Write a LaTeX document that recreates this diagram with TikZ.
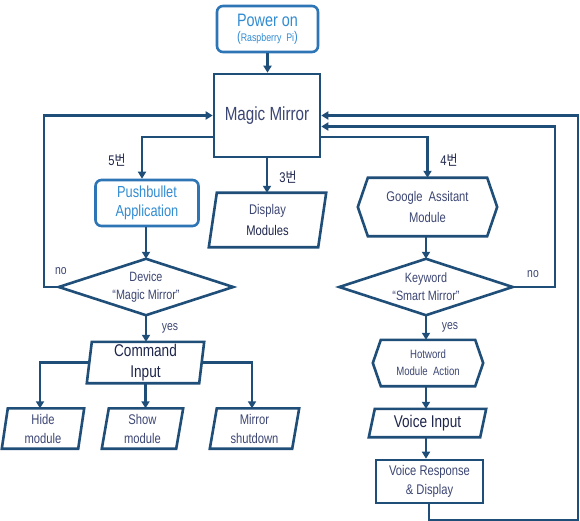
\documentclass[tikz,border=0pt]{standalone}
\usepackage{fontspec}
\setmainfont{Liberation Sans}[FakeStretch=0.8]
\newfontfamily\krfont{Noto Sans CJK KR}[FakeStretch=0.85]
\usetikzlibrary{arrows.meta,calc}
\definecolor{ln}{RGB}{31,78,121}
\definecolor{lbline}{RGB}{46,117,182}
\definecolor{lbtext}{RGB}{50,140,210}
\definecolor{txt}{RGB}{60,70,115}
\definecolor{dtxt}{RGB}{30,38,75}
\tikzset{
  box/.style={draw=ln, line width=2.6pt, rectangle, inner sep=0pt, align=center, text=txt},
  rbox/.style={draw=lbline, line width=2.6pt, rectangle, rounded corners=6pt, inner sep=0pt, align=center, text=lbtext},
  ghost/.style={draw=none, rectangle, inner sep=0pt, align=center, text=txt},
  outl/.style={draw=ln, line width=2.6pt, line join=miter},
  arr/.style={draw=ln, line width=2.2pt, -{Triangle[length=7pt,width=8pt]}},
  lab/.style={inner sep=0pt, text=dtxt, font=\fontsize{14}{16}\selectfont},
  yn/.style={inner sep=0pt, text=txt, font=\fontsize{13}{15}\selectfont},
}
\begin{document}
\begin{tikzpicture}[x=1pt,y=-1pt]
\useasboundingbox[fill=white] (0,0) rectangle (580,521);

% nodes
\node[rbox, minimum width=101pt, minimum height=46pt] (power) at (267.5,29)
  {\fontsize{18}{18}\selectfont Power on\\[3pt]{\fontsize{14}{14}\selectfont(}{\fontsize{11}{11}\selectfont Raspberry~~Pi}{\fontsize{14}{14}\selectfont)}};
\node[box, minimum width=106pt, minimum height=83pt, font=\fontsize{19}{22}\selectfont] (mm) at (267,115.5) {Magic Mirror};
\node[rbox, minimum width=103pt, minimum height=46pt, font=\fontsize{16}{19}\selectfont] (pb) at (147,203) {Pushbullet\\Application};

\node[ghost, minimum width=117pt, minimum height=54pt, font=\fontsize{14}{21}\selectfont] (disp) at (267.5,220) {Display\\\textcolor{dtxt}{Modules}};
\draw[outl] ([xshift=8pt]disp.north west) -- (disp.north east) -- ([xshift=-8pt]disp.south east) -- (disp.south west) -- cycle;

\node[ghost, minimum width=139pt, minimum height=58pt, font=\fontsize{14}{21}\selectfont] (gam) at (427.5,207) {Google~~Assitant\\Module};
\draw[outl] ([xshift=10pt]gam.north west) -- ([xshift=-10pt]gam.north east) -- (gam.east) -- ([xshift=-10pt]gam.south east) -- ([xshift=10pt]gam.south west) -- (gam.west) -- cycle;

\node[ghost, minimum width=174pt, minimum height=56pt, font=\fontsize{13.5}{18}\selectfont] (dev) at (146,287) {Device\\“Magic Mirror”};
\draw[outl] (dev.north) -- (dev.east) -- (dev.south) -- (dev.west) -- cycle;

\node[ghost, minimum width=173pt, minimum height=56pt, font=\fontsize{13.5}{18}\selectfont] (kw) at (426,287) {Keyword\\“Smart Mirror”};
\draw[outl] (kw.north) -- (kw.east) -- (kw.south) -- (kw.west) -- cycle;

\node[ghost, minimum width=117pt, minimum height=41pt, text=dtxt, font=\fontsize{17}{21}\selectfont] (cmd) at (145.5,362.5) {Command\\Input};
\draw[outl] ([xshift=5pt]cmd.north west) -- (cmd.north east) -- ([xshift=-5pt]cmd.south east) -- (cmd.south west) -- cycle;

\node[ghost, minimum width=82pt, minimum height=40pt, font=\fontsize{14}{19}\selectfont] (hide) at (43,428.5) {Hide\\module};
\draw[outl] ([xshift=6pt]hide.north west) -- (hide.north east) -- ([xshift=-6pt]hide.south east) -- (hide.south west) -- cycle;

\node[ghost, minimum width=81pt, minimum height=40pt, font=\fontsize{14}{19}\selectfont] (show) at (142.5,428.5) {Show\\module};
\draw[outl] ([xshift=7pt]show.north west) -- (show.north east) -- ([xshift=-7pt]show.south east) -- (show.south west) -- cycle;

\node[ghost, minimum width=89pt, minimum height=40pt, font=\fontsize{14}{19}\selectfont] (msd) at (254.5,428.5) {Mirror\\shutdown};
\draw[outl] ([xshift=7pt]msd.north west) -- (msd.north east) -- ([xshift=-7pt]msd.south east) -- (msd.south west) -- cycle;

\node[ghost, minimum width=110pt, minimum height=46pt, font=\fontsize{12}{17}\selectfont] (hot) at (428,363) {Hotword\\Module~~Action};
\draw[outl] ([xshift=8pt]hot.north west) -- ([xshift=-8pt]hot.north east) -- (hot.east) -- ([xshift=-8pt]hot.south east) -- ([xshift=8pt]hot.south west) -- (hot.west) -- cycle;

\node[ghost, minimum width=117pt, minimum height=28pt, text=dtxt, font=\fontsize{17}{20}\selectfont] (vi) at (427.5,423) {Voice Input};
\draw[outl] ([xshift=6pt]vi.north west) -- (vi.north east) -- ([xshift=-6pt]vi.south east) -- (vi.south west) -- cycle;

\node[box, minimum width=107pt, minimum height=43pt, font=\fontsize{14}{19}\selectfont] (vr) at (429.5,481.5) {Voice~Response\\\&~Display};

% labels
\node[lab] (l5) at (117,160) {5{\krfont 번}};
\node[lab] (l3) at (288,177) {3{\krfont 번}};
\node[lab] (l4) at (449,160) {4{\krfont 번}};
\node[yn] (no1) at (61,271) {no};
\node[yn] (yes1) at (170,328) {yes};
\node[yn] (no2) at (533,274) {no};
\node[yn] (yes2) at (450,327) {yes};

% connectors
\draw[arr] (power.south) -- (power.south |- mm.north);
\draw[arr] ($(mm.west)+(0,21.5)$) -| ([xshift=-5pt]pb.north);
\draw[arr] ($(mm.east)+(0,21.5)$) -| (gam.north);
\draw[arr] (mm.south) -- (mm.south |- disp.north);
\draw[arr] (dev.north |- pb.south) -- (dev.north);
\draw[arr] (dev.west) -- ++(-15,0) |- (mm.west);
\draw[arr] (dev.south) -- (dev.south |- cmd.north);
\draw[arr] ($(cmd.west)+(2.5,0)$) -| ([xshift=-3pt]hide.north);
\draw[arr] (cmd.south) -- (cmd.south |- show.north);
\draw[arr] ($(cmd.east)+(-2.5,0)$) -| ([xshift=-2.5pt]msd.north);
\draw[arr] (kw.north |- gam.south) -- (kw.north);
\draw[arr] (kw.east) -- ++(42,0) |- ($(mm.east)+(0,11)$);
\draw[arr] (kw.south) -- (kw.south |- hot.north);
\draw[arr] (hot.south -| kw.south) -- (kw.south |- vi.north);
\draw[arr] (vi.south -| kw.south) -- (kw.south |- vr.north);
\draw[arr] ([xshift=-0.5pt]vr.south) -- ++(0,16) -- ++(149,0) |- (mm.east);
\end{tikzpicture}
\end{document}
